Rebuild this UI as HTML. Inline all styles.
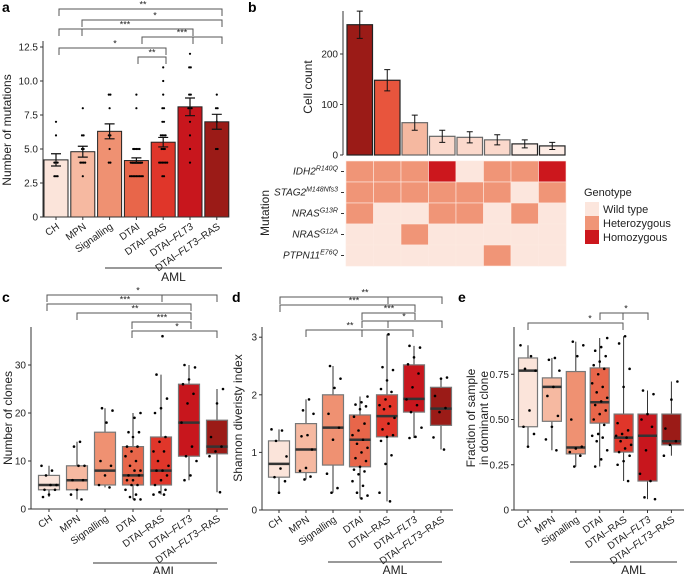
<!DOCTYPE html>
<html><head><meta charset="utf-8">
<style>
html,body{margin:0;padding:0;background:#fff;}
svg{display:block;font-family:"Liberation Sans",sans-serif;}
</style></head>
<body>
<svg id="fig" width="685" height="574" viewBox="0 0 685 574" xmlns="http://www.w3.org/2000/svg"></svg>
<script>
// ---------- data ----------
const categories = ['CH','MPN','Signalling','DTAI','DTAI–RAS','DTAI–FLT3','DTAI–FLT3–RAS'];
const groupColors = ['#fbe4da','#f6b9a1','#ef9172','#e8664a','#e0362a','#c8161d','#9b1b17'];

const aMeans = [4.2,4.8,6.3,4.15,5.5,8.1,7.0];
const aErr = [0.45,0.4,0.55,0.2,0.35,0.65,0.55];
const aTicks = [0,2.5,5.0,7.5,10.0,12.5];
const aPoints = [
 [7,6,4,4,4,3,3,3],
 [8,6,6,5,5,4,4,4,4,3],
 [9,9,8,6,6,5,4,4],
 [9,8,5,5,5,5,5,4,4,4,4,4,4,4,4,3,3,3,3,3,3,3,3,3],
 [11,10,9,8,8,7,7,6,6,6,6,5,5,5,4,4,4,4,4,4,3,3],
 [12,11,11,9,9,8,8,8,7,6,5,4],
 [9,8,8,7,5,5]
];

const bCounts = [258,148,64,37,35,30,22,18];
const bErr = [27,21,15,12,11,10,8,7];
const bTicks = [0,100,200];
const bColors = ['#9b1b17','#e8553d','#f5b8a0','#fbd9cc','#fbd9cc','#fbd9cc','#fdece5','#fdece5'];
const mutGenes = ['IDH2','STAG2','NRAS','NRAS','PTPN11'];
const mutSup = ['R140Q','M148Nfs3','G13R','G12A','E76Q'];
const genotype = [
 [1,1,1,2,0,1,1,2],
 [1,1,1,1,1,1,0,1],
 [1,0,0,1,1,0,1,0],
 [0,0,1,0,0,0,0,0],
 [0,0,0,0,0,1,0,0]
];
const genoLabels = ['Wild type','Heterozygous','Homozygous'];
const genoColors = ['#fce6dd','#f09577','#cc171d'];

// box stats: [q1, median, q3, whiskerLow, whiskerHigh]
const cBoxes = [[4,5,7,2.5,9],[4,6,9,2,14],[5,8,16,4.5,21],[5,7,13,2,20],[5,8,15,3,28],[11,18,26,6,30],[11.5,13,18.5,3.5,25]];
const cTicks = [0,10,20,30];
const cPoints = [
 [9,8,7,5,5,4,4,3,2.5],
 [14,13,9,9,6,6,4,3,2],
 [21,20.5,18,10,9,7,5,4.5],
 [20,19,16,16,15,13,13,12,11,10,9,8,8,7,7,6,6,5,5,4,3,2.5,2,2],
 [36,28,23,21,20,15,14,12,12,10,9,8,8,7,6,5,4,3.5,3,3],
 [30,29.5,27,26,24,22,18,13,11,10,7,6],
 [25,22,15,13,12,11,3.5]
];
const dBoxes = [[0.57,0.8,1.2,0.3,1.4],[0.65,1.05,1.5,0.53,1.92],[0.78,1.43,2.0,0.3,2.5],[0.75,1.22,1.65,0.2,1.97],[1.27,1.63,2.0,0.15,3.05],[1.7,1.93,2.52,1.25,2.85],[1.47,1.76,2.13,1.05,2.3]];
const dTicks = [0,1,2,3];
const dPoints = [
 [1.4,1.38,1.2,0.93,0.72,0.57,0.5,0.3],
 [1.92,1.73,1.67,1.3,1.28,1.05,0.73,0.68,0.58,0.53],
 [2.5,2.28,2.12,1.67,1.43,1.22,0.63,0.38,0.3],
 [1.97,1.87,1.83,1.8,1.75,1.62,1.5,1.38,1.3,1.22,1.15,1.08,1.0,0.9,0.85,0.75,0.7,0.67,0.62,0.5,0.42,0.3,0.25,0.2],
 [3.05,2.48,2.43,2.25,2.1,2.05,1.92,1.82,1.8,1.75,1.6,1.5,1.4,1.3,1.27,1.2,0.95,0.8,0.3,0.15],
 [2.85,2.82,2.65,2.53,2.37,2.13,1.92,1.82,1.7,1.43,1.27,1.25],
 [2.3,2.28,1.98,1.77,1.7,1.26,1.05]
];
const eBoxes = [[0.46,0.77,0.84,0.35,0.91],[0.49,0.68,0.73,0.33,0.84],[0.31,0.345,0.765,0.24,0.93],[0.48,0.595,0.785,0.24,0.95],[0.32,0.40,0.53,0.16,0.96],[0.16,0.41,0.53,0.06,0.66],[0.36,0.38,0.53,0.30,0.71]];
const eTicks = [0,0.25,0.50,0.75];
const eTickLabels = ['0','0.25','0.50','0.75'];
const ePoints = [
 [0.91,0.85,0.78,0.77,0.55,0.46,0.42,0.35],
 [0.84,0.83,0.77,0.68,0.63,0.52,0.46,0.39,0.33],
 [0.93,0.91,0.85,0.50,0.35,0.34,0.32,0.30,0.24],
 [0.95,0.9,0.88,0.85,0.82,0.8,0.78,0.75,0.7,0.68,0.65,0.62,0.6,0.58,0.55,0.53,0.5,0.47,0.42,0.41,0.40,0.38,0.33,0.28,0.24],
 [0.96,0.92,0.78,0.68,0.48,0.44,0.42,0.41,0.40,0.38,0.36,0.34,0.32,0.3,0.27,0.25,0.16],
 [0.66,0.64,0.53,0.50,0.46,0.33,0.2,0.16,0.07,0.06],
 [0.71,0.61,0.45,0.38,0.36,0.30]
];

// ---------- helpers ----------
const NS='http://www.w3.org/2000/svg';
const svg=document.getElementById('fig');
function mk(tag, attrs, parent){
  const e=document.createElementNS(NS,tag);
  for(const k in attrs) e.setAttribute(k,attrs[k]);
  (parent||svg).appendChild(e);
  return e;
}
function txt(str, attrs, parent){ const t=mk('text',attrs,parent); t.textContent=str; return t; }
function group(name){
  const g=mk('g',{});
  
  
  return g;
}
function catLabel(g, i, x, y){
  const t=mk('text',{x:x,y:y,'text-anchor':'end','font-size':'10',fill:'#222',transform:`rotate(-35 ${x} ${y})`},g);
  
  
  const parts=categories[i].split(/(FLT3)/);
  parts.forEach(p=>{ if(!p) return; const s=mk('tspan',{},t); s.textContent=p; if(p==='FLT3') s.setAttribute('font-style','italic'); });
}
function bracket(g, y, x1, x2, ticks, label, lx){
  const p=mk('path',{d:`M${x1},${y+7}V${y}H${x2}V${y+7}`,fill:'none',stroke:'#555','stroke-width':'1'},g);
  
  
  ticks.forEach(tx=>{ mk('line',{x1:tx,x2:tx,y1:y,y2:y+7,stroke:'#555','stroke-width':'1'},g); });
  const t=txt(label,{x:lx,y:y-1.5,'text-anchor':'middle','font-size':'9',fill:'#222'},g);
  
  
}
function panelLetter(l,x,y){
  const t=txt(l,{x:x,y:y,'font-size':'14','font-weight':'bold',fill:'#000'});
  
  
}
function yAxis(g, ax, yTop, y0, ticks, labels, ys){
  const l=mk('line',{x1:ax,x2:ax,y1:yTop,y2:y0,stroke:'#333','stroke-width':'1'},g);
  
  
  ticks.forEach((v,i)=>{
    mk('line',{x1:ax-3,x2:ax,y1:ys(v),y2:ys(v),stroke:'#333'},g);
    const t=txt(labels[i],{x:ax-5,y:ys(v)+3.5,'text-anchor':'end','font-size':'10',fill:'#222'},g);
    
    
  });
}
function yTitle(g, lines, x, y){
  const t=mk('text',{x:x,y:y,'text-anchor':'middle','font-size':'12',fill:'#222',transform:`rotate(-90 ${x} ${y})`},g);
  
  
  lines.forEach((s,i)=>{ const ts=mk('tspan',{x:x,dy:i?13:0},t); ts.textContent=s; });
}
function xAxis(g, x1, x2, y0, xs){
  const l=mk('line',{x1:x1,x2:x2,y1:y0,y2:y0,stroke:'#333'},g);
  
  
  categories.forEach((c,i)=>{
    mk('line',{x1:xs(i),x2:xs(i),y1:y0,y2:y0+3,stroke:'#333'},g);
    catLabel(g,i,xs(i)+4,y0+11);
  });
}
function amlLine(g, x1, x2, y, off){
  const l=mk('line',{x1:x1,x2:x2,y1:y,y2:y,stroke:'#333'},g);
  
  
  const t=txt('AML',{x:(x1+x2)/2+10,y:y+off,'text-anchor':'middle','font-size':'12',fill:'#222'},g);
  
  
}
function jit(k){ return ((k*7)%11-5)*1.5; }
function boxplot(g, boxes, pts, xs, ys, w){
  boxes.forEach((b,i)=>{
    const cx=xs(i);
    mk('line',{x1:cx,x2:cx,y1:ys(b[3]),y2:ys(b[4]),stroke:'#333','stroke-width':'1'},g);
    const r=mk('rect',{x:cx-w/2,y:ys(b[2]),width:w,height:ys(b[0])-ys(b[2]),fill:groupColors[i],stroke:'#777','stroke-width':'1.2'},g);
    
    
    mk('line',{x1:cx-w/2,x2:cx+w/2,y1:ys(b[1]),y2:ys(b[1]),stroke:'#333','stroke-width':'2.5'},g);
    pts[i].forEach((v,k)=>{
      const c=mk('circle',{cx:cx+jit(k+i),cy:ys(v),r:1.3,fill:'#000'},g);
      
      
    });
  });
}

// ---------- panel a ----------
(function(){
  const g=group('panel-a-mutations-bar-chart');
  panelLetter('a',2,12);
  const xs=i=>56+i*26.8, ys=v=>217-v*13.6;
  aMeans.forEach((m,i)=>{
    const r=mk('rect',{x:xs(i)-12,y:ys(m),width:24,height:ys(0)-ys(m),fill:groupColors[i],stroke:'#222','stroke-width':'1'},g);
    
    
  });
  aPoints.forEach((arr,i)=>{
    const cnt={};
    arr.forEach(v=>{
      cnt[v]=(cnt[v]||0)+1; const n=cnt[v]; const tot=arr.filter(x=>x===v).length;
      const c=mk('circle',{cx:xs(i)+(n-(tot+1)/2)*1.6,cy:ys(v),r:1.1,fill:'#000'},g);
      
      
    });
  });
  aMeans.forEach((m,i)=>{
    const x=xs(i), t=ys(m+aErr[i]), b=ys(m-aErr[i]);
    const p=mk('path',{d:`M${x-5},${t}H${x+5}M${x},${t}V${b}M${x-5},${b}H${x+5}`,stroke:'#111','stroke-width':'1.2',fill:'none'},g);
    
    
  });
  yAxis(g,43,41,217,aTicks,['0','2.5','5.0','7.5','10.0','12.5'],ys);
  yTitle(g,['Number of mutations'],11,130);
  xAxis(g,43,229,217,xs);
  amlLine(g,105,222,268,13);
  bracket(g,9,59,222,[],'**',143);
  bracket(g,20,82,222,[],'*',155);
  bracket(g,29,59,193,[82],'***',125);
  bracket(g,37,142,222,[193],'***',182);
  bracket(g,48,59,166,[],'*',115);
  bracket(g,57,138,166,[],'**',152);
})();

// ---------- panel b ----------
(function(){
  const g=group('panel-b-cell-count-heatmap');
  panelLetter('b',248,12);
  const x0=346, cw=27.5, ys=v=>155-v*0.505;
  bCounts.forEach((v,i)=>{
    const r=mk('rect',{x:x0+i*cw+1,y:ys(v),width:cw-2,height:ys(0)-ys(v),fill:bColors[i],stroke:i>=2&&i<=5?'#666':'#222','stroke-width':'1.2'},g);
    
    
    const x=x0+i*cw+cw/2, t=ys(v+bErr[i]), b=ys(v-bErr[i]);
    const p=mk('path',{d:`M${x-3},${t}H${x+3}M${x},${t}V${b}M${x-3},${b}H${x+3}`,stroke:'#111','stroke-width':'1',fill:'none'},g);
    
    
  });
  yAxis(g,343,11,155,bTicks,['0','100','200'],ys);
  yTitle(g,['Cell count'],312,87);
  const ry0=161, rh=21;
  genotype.forEach((row,r)=>{
    row.forEach((gt,c)=>{
      const cell=mk('rect',{x:x0+c*cw,y:ry0+r*rh,width:cw,height:rh,fill:genoColors[gt],stroke:'#fde9e1','stroke-width':'0.6'},g);
      
      
    });
    const y=ry0+r*rh+rh/2;
    mk('line',{x1:341,x2:344,y1:y,y2:y,stroke:'#333'},g);
    const t=mk('text',{x:338,y:y+3,'text-anchor':'end','font-size':'10','font-style':'italic',fill:'#222'},g);
    
    
    const s1=mk('tspan',{},t); s1.textContent=mutGenes[r];
    const s2=mk('tspan',{'font-size':'7',dy:'-4'},t); s2.textContent=mutSup[r];
  });
  yTitle(g,['Mutation'],269,213);
  const lt=txt('Genotype',{x:584,y:196,'font-size':'11',fill:'#222'},g);
  
  
  genoLabels.forEach((l,i)=>{
    const sw=mk('rect',{x:585,y:202+i*14,width:14,height:14,fill:genoColors[i]},g);
    
    
    const t=txt(l,{x:603,y:213+i*14,'font-size':'11',fill:'#222'},g);
    
    
  });
})();

// ---------- panel c ----------
(function(){
  const g=group('panel-c-clones-boxplot');
  panelLetter('c',2,302);
  const xs=i=>49+i*28, ys=v=>509-v*4.8;
  boxplot(g,cBoxes,cPoints,xs,ys,21);
  yAxis(g,31,327,509,cTicks,['0','10','20','30'],ys);
  yTitle(g,['Number of clones'],12,418);
  xAxis(g,31,228,509,xs);
  amlLine(g,93,217,563,12);
  bracket(g,295,47,217,[162],'*',138);
  bracket(g,304,47,191,[],'***',125);
  bracket(g,313,77,191,[],'**',135);
  bracket(g,322,132,191,[],'***',162);
  bracket(g,331,132,217,[],'*',177);
})();

// ---------- panel d ----------
(function(){
  const g=group('panel-d-shannon-boxplot');
  panelLetter('d',232,302);
  const xs=i=>279+i*27, ys=v=>510-v*57.6;
  boxplot(g,dBoxes,dPoints,xs,ys,21);
  yAxis(g,262,327,510,dTicks,['0','1','2','3'],ys);
  yTitle(g,['Shannon diveristy index'],242,418);
  xAxis(g,262,453,510,xs);
  amlLine(g,328,442,562,12);
  bracket(g,297,280,442,[388],'**',365);
  bracket(g,305,280,415,[],'***',354);
  bracket(g,313,362,415,[],'***',389);
  bracket(g,321,362,442,[388],'*',404);
  bracket(g,330,306,413,[362],'**',350);
})();

// ---------- panel e ----------
(function(){
  const g=group('panel-e-dominant-clone-boxplot');
  panelLetter('e',458,302);
  const xs=i=>528+i*23.9, ys=v=>510-v*181;
  boxplot(g,eBoxes,ePoints,xs,ys,19);
  yAxis(g,514,327,510,eTicks,eTickLabels,ys);
  yTitle(g,['Fraction of sample','in dominant clone'],475,418);
  xAxis(g,514,684,510,xs);
  amlLine(g,570,677,562,12);
  bracket(g,313,600,648,[623],'*',626);
  bracket(g,323,528,623,[],'*',590);
})();
</script>
</body></html>
